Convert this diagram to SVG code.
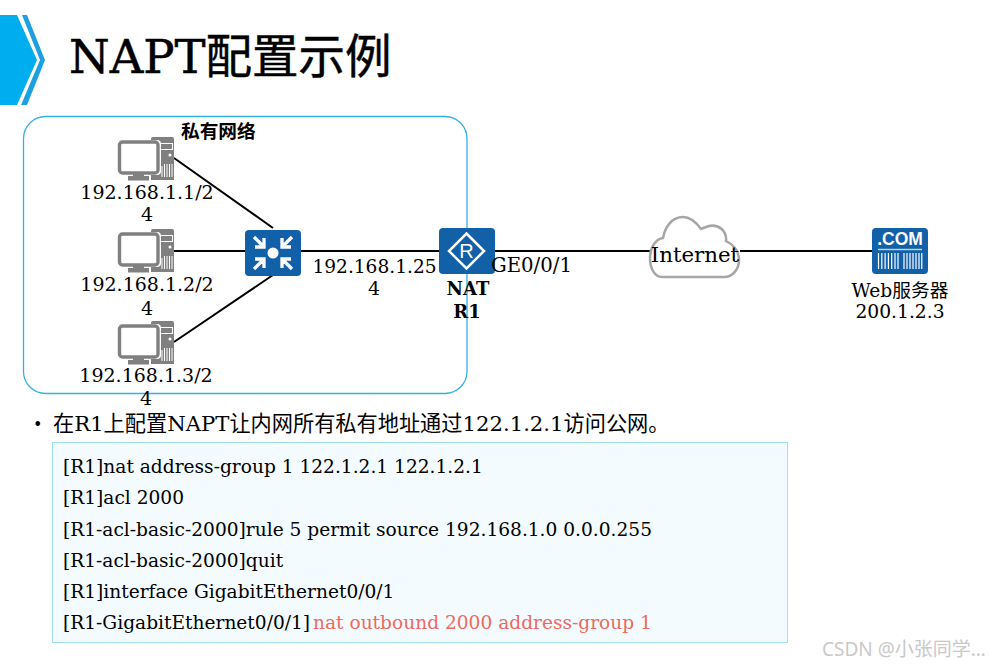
<svg xmlns="http://www.w3.org/2000/svg" width="990" height="667" viewBox="0 0 990 667">
<style>
text{font-family:"DejaVu Serif","Noto Sans CJK SC",serif;fill:#000}
.l{font-size:19px;text-anchor:middle}
.b{font-weight:bold}
.c{font-size:18.600px}
.line{stroke:#000;stroke-width:2;fill:none}
.blue{fill:#1160a8}
.pc{fill:#808080}
.wl{fill:none;stroke:#fff}
</style>
<defs>
<g id="pc">
<path class="pc" d="M33 2a2 2 0 0 1 2-2h19a2 2 0 0 1 2 2v41H33z"/>
<rect x="41.500" y="6.500" width="13" height="6" class="wl"/>
<circle cx="52" cy="18" r="1.500" fill="#fff"/>
<path class="wl" d="M44 29v11M46.500 27v13M49 27v13M51.500 27v13M54 27v13"/>
<rect x="-1" y="3" width="44" height="35" rx="4" fill="#fff"/>
<rect x="1.500" y="5" width="38.500" height="31" rx="3" fill="#fff" stroke="#808080" stroke-width="3.400"/>
<path class="pc" d="M10 39h21v4.500H10z"/>
<path class="pc" d="M15 36h11v3H15z"/>
</g>
</defs>
<rect width="990" height="667" fill="#fff"/>
<g id="header">
<path d="M0 15h17l20 45-20 45H0z" fill="#00aeef"/>
<path d="M22 15h5l18 45-18 45h-6l19-45z" fill="#1ba1e2"/>
<text x="69" y="73" font-size="46.500" stroke="#000" stroke-width="0.500">NAPT配置示例</text>
</g>
<g id="private-network">
<rect x="23.500" y="116.500" width="443.500" height="277" rx="22" fill="none" stroke="#35b0e6" stroke-width="1.300"/>
<text x="181" y="138" font-size="18.700" class="b">私有网络</text>
</g>
<g id="connectors">
<path class="line" d="M174 158L273 228M174 251H439M174 342L273 275M495 251H650M740 251H872"/>
</g>
<g id="pc1"><use href="#pc" x="118" y="137"/><text class="l" x="147" y="199">192.168.1.1/2</text><text class="l" x="147" y="221">4</text></g>
<g id="pc2"><use href="#pc" x="118" y="229"/><text class="l" x="147" y="291">192.168.1.2/2</text><text class="l" x="147" y="315">4</text></g>
<g id="pc3"><use href="#pc" x="118" y="321"/><text class="l" x="146" y="382">192.168.1.3/2</text><text class="l" x="146" y="405">4</text></g>
<g id="switch">
<rect class="blue" x="245" y="230" width="56" height="46" rx="4"/>
<circle cx="273" cy="253" r="5.500" fill="#fff"/>
<path d="M254 237l10 10M255 247h9v-9M292 237l-10 10M291 247h-9v-9M254 269l10-10M255 259h9v9M292 269l-10-10M291 259h-9v9" fill="none" stroke="#fff" stroke-width="3.300"/>
</g>
<g id="r1">
<rect class="blue" x="439" y="228" width="56" height="46" rx="4"/>
<path d="M466.500 233.500l17.500 17.500-17.500 17.500-17.500-17.500z" fill="none" stroke="#fff" stroke-width="2.500"/>
<text x="466.500" y="258" font-size="20" text-anchor="middle" style="fill:#fff;font-family:'Liberation Sans',sans-serif">R</text>
<text class="b" x="468" y="295" font-size="18" text-anchor="middle">NAT</text>
<text class="b" x="467" y="318" font-size="18" text-anchor="middle">R1</text>
</g>
<text x="374.500" y="273" font-size="18.600" text-anchor="middle">192.168.1.25</text>
<text class="l" x="374" y="295">4</text>
<text x="491" y="272" font-size="19.700">GE0/0/1</text>
<g id="internet">
<path d="M662 277h62c9 0 15-8 15-17 0-9-5-15-13-19 1-10-7-17-17-15-3 1-6 2-8 3-5-7-10-12-18-12-11 0-18 10-20 21-7 1-13 9-13 20 0 11 5 19 12 19z" fill="#fff" stroke="#a6a6a6" stroke-width="2.500"/>
<text x="695" y="262" font-size="21.300" text-anchor="middle">Internet</text>
</g>
<g id="web">
<rect class="blue" x="872" y="228" width="56" height="46" rx="4"/>
<text x="900" y="245" font-size="17.500" font-weight="bold" text-anchor="middle" style="fill:#fff;font-family:'Liberation Sans',sans-serif">.COM</text>
<path d="M878 249.500h44" stroke="#b8d4ea" stroke-width="1.500"/>
<path d="M878.500 253v16M881.800 253v16M885.100 253v16M888.400 253v16M891.700 253v16M895 253v16M898 253v16M904 253v16M907 253v16M910 253v16M913 253v16M916 253v16M919 253v16M921.800 253v16" stroke="#fff" stroke-width="1.200"/>
<text x="900" y="297" font-size="18.700" text-anchor="middle">Web服务器</text>
<text x="900" y="318" font-size="18.700" text-anchor="middle">200.1.2.3</text>
</g>
<g id="bullet">
<text x="33" y="430" font-size="16">•</text>
<text x="53" y="431" font-size="21.200">在R1上配置NAPT让内网所有私有地址通过122.1.2.1访问公网。</text>
</g>
<g id="config">
<rect x="52.500" y="442.500" width="735" height="200" fill="#f3fbfe" stroke="#9fe0f2"/>
<text class="c" x="63" y="473">[R1]nat address-group 1 122.1.2.1 122.1.2.1</text>
<text class="c" x="63" y="504">[R1]acl 2000</text>
<text class="c" x="63" y="536">[R1-acl-basic-2000]rule 5 permit source 192.168.1.0 0.0.0.255</text>
<text class="c" x="63" y="567">[R1-acl-basic-2000]quit</text>
<text class="c" x="63" y="598">[R1]interface GigabitEthernet0/0/1</text>
<text class="c" x="63" y="629">[R1-GigabitEthernet0/0/1]<tspan x="313" style="fill:#ee6a5e">nat outbound 2000 address-group 1</tspan></text>
</g>
<text x="822" y="656" font-size="19" style="fill:#c9c9c9;font-family:'Noto Sans','Noto Sans CJK SC',sans-serif">CSDN @小张同学…</text>
</svg>
